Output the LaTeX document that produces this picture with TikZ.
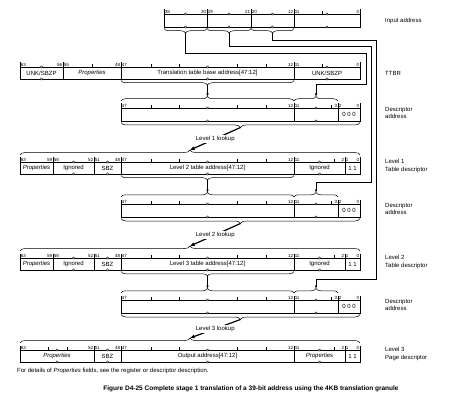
\documentclass[tikz,border=0pt]{standalone}
\usepackage{fontspec}
\setmainfont{Liberation Sans}
\usetikzlibrary{arrows.meta,decorations.pathreplacing}
\tikzset{
  fld/.style    = {draw, line width=0.7pt, minimum height=12pt, inner sep=0pt,
                   outer sep=0pt, font=\fontsize{6}{7}\selectfont},
  bit/.style    = {font=\fontsize{4.5}{5}\selectfont, inner sep=0.6pt},
  side/.style   = {font=\fontsize{6}{7.5}\selectfont, align=left, anchor=west, inner sep=0pt},
  brc/.style    = {decorate, decoration={brace, amplitude=4.5pt}, line width=0.5pt},
  link/.style   = {line width=0.5pt, -{Latex[length=3pt,width=2.6pt]}},
  lookup/.style = {line width=1.2pt, -{Latex[length=4.5pt,width=4pt]}},
  lk/.style     = {fill=white, inner sep=1pt, font=\fontsize{6}{7}\selectfont},
  tick/.style   = {line width=0.4pt},
  mk/.style     = {line width=0.35pt, fill=white},
}

\begin{document}
\begin{tikzpicture}[x=1pt, y=-1pt]
  \useasboundingbox (0,0) rectangle (474,401);

  % input address
  \node[fld, minimum width=43pt, minimum height=13pt] (ia1) at (185.5,20.5) {};
  \node[fld, minimum width=44pt, minimum height=13pt] (ia2) at (229,20.5) {};
  \node[fld, minimum width=43pt, minimum height=13pt] (ia3) at (272.5,20.5) {};
  \node[fld, minimum width=66pt, minimum height=13pt] (ia4) at (327,20.5) {};
  \foreach \x/\b/\a in {164/38/west, 207/30/east, 207/29/west, 251/21/east,
                        251/20/west, 294/12/east, 294/11/west, 360/0/east} {
    \draw[tick] (\x,14) -- (\x,9.5);
    \node[bit, anchor=south \a] (ia-\b) at (\x,14) {\b};
  }
  \draw[tick] (322,14) -- (322,11);
  \node[side] (ialab) at (385,20.5) {Input address};

  \draw[brc] (207,28.5) -- (164,28.5);
  \draw[brc] (251,28.5) -- (207,28.5);
  \draw[brc] (294,28.5) -- (251,28.5);
  \coordinate (ia1t) at (185.5,33);
  \coordinate (ia2t) at (229,33);
  \coordinate (ia3t) at (272.5,33);

  % TTBR
  \node[fld, minimum width=43pt]  (tb1) at (41.5,73)  {UNK/SBZP};
  \node[fld, minimum width=58pt]  (tb2) at (92,73)    {\textit{Properties}};
  \node[fld, minimum width=173pt] (tb3) at (207.5,73) {Translation table base address[47:12]};
  \node[fld, minimum width=66pt]  (tb4) at (327,73)   {UNK/SBZP};
  \foreach \x/\b/\a in {20/63/west, 63/56/east, 63/55/west, 121/48/east,
                        121/47/west, 294/12/east, 294/11/west, 360/0/east} {
    \draw[tick] (\x,67) -- (\x,62.5);
    \node[bit, anchor=south \a] (tb-\b) at (\x,67) {\b};
  }
  \foreach \x in {92,151,179,237,266,322}
    \draw[tick] (\x,67) -- (\x,64);
  \node[side] (tblab) at (385,73) {TTBR};
  \draw[brc] (294,80.5) -- (121,80.5);
  \coordinate (tbt) at (207.5,85);

  % descriptor addresses
  \foreach \k/\t in {1/108, 2/204, 3/300} {
    \node[fld, minimum width=173pt, minimum height=13pt] (da\k a) at (207.5,\t+6.5) {};
    \node[fld, minimum width=44pt, minimum height=13pt]  (da\k b) at (316,\t+6.5) {};
    \node[fld, minimum width=22pt, minimum height=13pt]  (da\k c) at (349,\t+6.5) {0 0 0};
    \foreach \x/\b/\a in {121/47/west, 294/12/east, 294/11/west, 338/3/east,
                          338/2/west, 360/0/east} {
      \draw[tick] (\x,\t) -- (\x,\t-4.5);
      \node[bit, anchor=south \a] (da\k-\b) at (\x,\t) {\b};
    }
    \foreach \x in {151,179,237,266,331}
      \draw[tick] (\x,\t) -- (\x,\t-3);
    \node[side] (da\k lab) at (385,\t+5) {Descriptor\\address};
    \draw[brc] (121,\t-7) -- (294,\t-7);
    \draw[brc] (294,\t-7) -- (338,\t-7);
    \draw[brc, decoration={amplitude=5pt}] (360,\t+14.5) -- (121,\t+14.5);
    \coordinate (da\k t1) at (207.5,\t-11.5);
    \coordinate (da\k t2) at (316,\t-11.5);
    \coordinate (da\k bt) at (240.5,\t+19.5);
  }

  % level 1 and level 2 table descriptors
  \foreach \k/\t/\n in {1/162/2, 2/258/3} {
    \node[fld, minimum width=33pt]  (l\k a) at (36.5,\t+6)  {\textit{Properties}};
    \node[fld, minimum width=41pt]  (l\k b) at (73.5,\t+6)  {Ignored};
    \node[fld, minimum width=27pt]  (l\k c) at (107.5,\t+6) {SBZ};
    \node[fld, minimum width=173pt] (l\k d) at (207.5,\t+6) {Level \n\ table address[47:12]};
    \node[fld, minimum width=51pt]  (l\k e) at (319.5,\t+6) {Ignored};
    \node[fld, minimum width=15pt]  (l\k f) at (352.5,\t+6) {1 1};
    \foreach \x/\b/\a in {20/63/west, 53/59/east, 53/58/west, 94/52/east, 94/51/west,
                          121/48/east, 121/47/west, 294/12/east, 294/11/west,
                          345/2/east, 345/1/west, 360/0/east} {
      \draw[tick] (\x,\t) -- (\x,\t-4.5);
      \node[bit, anchor=south \a] (l\k-\b) at (\x,\t) {\b};
    }
    \foreach \x in {151,179,237,266,334}
      \draw[tick] (\x,\t) -- (\x,\t-3);
    \node[side] (l\k lab) at (385,\t+4) {Level \k\\Table descriptor};
    \draw[brc, decoration={amplitude=5pt}] (20,\t-7) -- (360,\t-7);
    \draw[brc] (294,\t+13.5) -- (121,\t+13.5);
    \coordinate (l\k t) at (190,\t-12);
    \coordinate (l\k bt) at (207.5,\t+18);
  }

  % level 3 page descriptor
  \node[fld, minimum width=74pt]  (l3a) at (57,356)    {\textit{Properties}};
  \node[fld, minimum width=27pt]  (l3b) at (107.5,356) {SBZ};
  \node[fld, minimum width=173pt] (l3c) at (207.5,356) {Output address[47:12]};
  \node[fld, minimum width=51pt]  (l3d) at (319.5,356) {\textit{Properties}};
  \node[fld, minimum width=15pt]  (l3e) at (352.5,356) {1 1};
  \foreach \x/\b/\a in {20/63/west, 94/52/east, 94/51/west, 121/48/east,
                        121/47/west, 294/12/east, 294/11/west, 345/2/east,
                        345/1/west, 360/0/east} {
    \draw[tick] (\x,350) -- (\x,345.5);
    \node[bit, anchor=south \a] (l3-\b) at (\x,350) {\b};
  }
  \foreach \x in {48,67,151,179,237,266,334}
    \draw[tick] (\x,350) -- (\x,347);
  \node[side] (l3lab) at (385,354) {Level 3\\Page descriptor};
  \draw[brc, decoration={amplitude=5pt}] (20,343) -- (360,343);
  \coordinate (l3t) at (190,338);

  % field marks
  \foreach \f in {ia1,ia2,ia3,ia4,tb1,tb3,tb4,da1a,da1b,da2a,da2b,da3a,da3b,
                  l1b,l1c,l1d,l1e,l2b,l2c,l2d,l2e,l3a,l3b,l3c,l3d} {
    \draw[mk] (\f.north) circle (1.1pt);
    \draw[mk] (\f.south) circle (1.1pt);
  }

  % index connectors
  \draw[link] (ia1t) |- (366,53) |- (316,84) -- (da1t2);
  \draw[link] (ia2t) |- (371,46) |- (316,182) -- (da2t2);
  \draw[link] (ia3t) |- (376,40) |- (316,279) -- (da3t2);

  % base address connectors
  \draw[link] (tbt) -- (da1t1);
  \draw[link] (l1bt) -- (da2t1);
  \draw[link] (l2bt) -- (da3t1);

  % lookups
  \draw[lookup] (da1bt) -- node[lk] (lk1) {Level 1 lookup} (l1t);
  \draw[lookup] (da2bt) -- node[lk] (lk2) {Level 2 lookup} (l2t);
  \draw[lookup] (da3bt) -- node[lk] (lk3) {Level 3 lookup} (l3t);

  \node[anchor=west, inner sep=0pt, font=\fontsize{6}{7}\selectfont] (note) at (17,371)
    {For details of \textit{Properties} fields, see the register or descriptor description.};
  \node[inner sep=0pt, font=\bfseries\fontsize{6.5}{8}\selectfont] (cap) at (251,389)
    {Figure D4-25 Complete stage 1 translation of a 39-bit address using the 4KB translation granule};
\end{tikzpicture}
\end{document}
